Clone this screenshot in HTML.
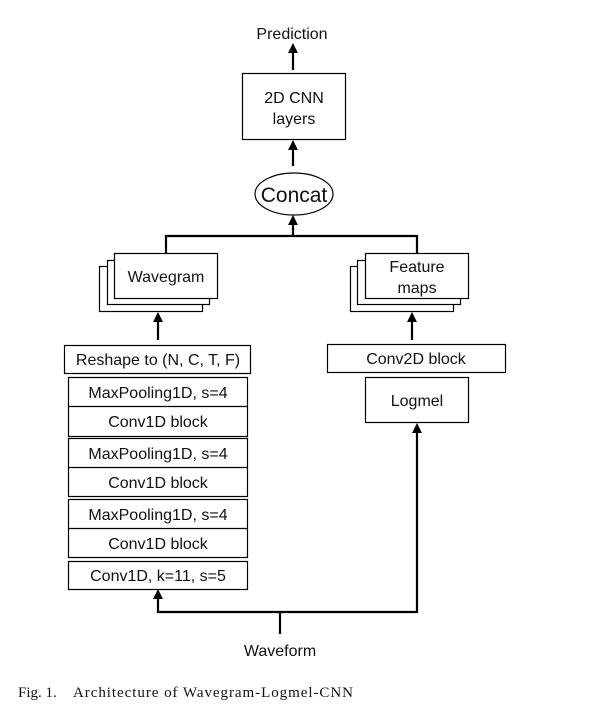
<!DOCTYPE html>
<html><head><meta charset="utf-8"><style>
html,body{margin:0;padding:0;background:#fff;}
svg text{font-family:"Liberation Sans",sans-serif;fill:#111;}
</style></head><body>
<svg width="600" height="719" viewBox="0 0 600 719" xmlns="http://www.w3.org/2000/svg">
<defs><marker id="a" viewBox="0 0 10 10" refX="5" refY="5" markerWidth="4.5" markerHeight="4.5" orient="auto-start-reverse"><path d="M0,0L10,5L0,10z" fill="#000"/></marker></defs>
<g font-size="16" text-anchor="middle">
<text x="292" y="39">Prediction</text>
<line x1="293" y1="70" x2="293" y2="48" stroke="#000" stroke-width="2.2" marker-end="url(#a)"/>
<rect x="242.5" y="73.5" width="103" height="66" fill="#fff" stroke="#000" stroke-width="1.2"/>
<text x="294" y="103">2D CNN</text><text x="294" y="124">layers</text>
<line x1="293" y1="166" x2="293" y2="145" stroke="#000" stroke-width="2.2" marker-end="url(#a)"/>
<ellipse cx="294" cy="194" rx="39" ry="21" fill="#fff" stroke="#000" stroke-width="1.2"/>
<text x="294" y="202" font-size="21">Concat</text>
<line x1="293" y1="236" x2="293" y2="220" stroke="#000" stroke-width="2.2" marker-end="url(#a)"/>
<polyline points="166,253 166,236 417,236 417,253" fill="none" stroke="#000" stroke-width="2.2"/>
<rect x="99.5" y="266.5" width="103" height="45" fill="#fff" stroke="#000" stroke-width="1.2"/>
<rect x="107.5" y="260.5" width="102" height="44" fill="#fff" stroke="#000" stroke-width="1.2"/>
<rect x="114.5" y="253.5" width="103" height="45" fill="#fff" stroke="#000" stroke-width="1.2"/>
<text x="166" y="282">Wavegram</text>
<rect x="350.5" y="266.5" width="103" height="45" fill="#fff" stroke="#000" stroke-width="1.2"/>
<rect x="357.5" y="260.5" width="103" height="44" fill="#fff" stroke="#000" stroke-width="1.2"/>
<rect x="365.5" y="253.5" width="103" height="45" fill="#fff" stroke="#000" stroke-width="1.2"/>
<text x="417" y="272">Feature</text><text x="417" y="293">maps</text>
<line x1="158" y1="340" x2="158" y2="317" stroke="#000" stroke-width="2.2" marker-end="url(#a)"/>
<line x1="412" y1="340" x2="412" y2="317" stroke="#000" stroke-width="2.2" marker-end="url(#a)"/>
<rect x="64.5" y="345.5" width="186" height="28" fill="#fff" stroke="#000" stroke-width="1.2"/>
<text x="158" y="365">Reshape to (N, C, T, F)</text>
<rect x="68.5" y="377.5" width="179" height="59" fill="none" stroke="#000" stroke-width="1.2"/>
<line x1="68" y1="406.5" x2="248" y2="406.5" stroke="#000" stroke-width="1.2"/>
<text x="158" y="398">MaxPooling1D, s=4</text><text x="158" y="427">Conv1D block</text>
<rect x="68.5" y="438.5" width="179" height="58" fill="none" stroke="#000" stroke-width="1.2"/>
<line x1="68" y1="467.5" x2="248" y2="467.5" stroke="#000" stroke-width="1.2"/>
<text x="158" y="459">MaxPooling1D, s=4</text><text x="158" y="488">Conv1D block</text>
<rect x="68.5" y="499.5" width="179" height="58" fill="none" stroke="#000" stroke-width="1.2"/>
<line x1="68" y1="528.5" x2="248" y2="528.5" stroke="#000" stroke-width="1.2"/>
<text x="158" y="520">MaxPooling1D, s=4</text><text x="158" y="549">Conv1D block</text>
<rect x="68.5" y="561.5" width="179" height="28" fill="none" stroke="#000" stroke-width="1.2"/>
<text x="158" y="581">Conv1D, k=11, s=5</text>
<rect x="327.5" y="344.5" width="178" height="28" fill="#fff" stroke="#000" stroke-width="1.2"/>
<text x="416" y="364">Conv2D block</text>
<rect x="365.5" y="377.5" width="103" height="45" fill="#fff" stroke="#000" stroke-width="1.2"/>
<text x="417" y="406">Logmel</text>
<polyline points="158,594 158,612 417,612 417,428" fill="none" stroke="#000" stroke-width="2.2"/>
<line x1="158" y1="598" x2="158" y2="594" stroke="#000" stroke-width="2.2" marker-end="url(#a)"/>
<line x1="417" y1="432" x2="417" y2="428" stroke="#000" stroke-width="2.2" marker-end="url(#a)"/>
<line x1="280" y1="612" x2="280" y2="634" stroke="#000" stroke-width="2.2"/>
<text x="280" y="656">Waveform</text>
</g>
<text x="18" y="697" font-size="15" style="font-family:'Liberation Serif',serif">Fig. 1.</text>
<text x="73" y="697" font-size="15" textLength="280" lengthAdjust="spacing" style="font-family:'Liberation Serif',serif">Architecture of Wavegram-Logmel-CNN</text>
</svg>
</body></html>
